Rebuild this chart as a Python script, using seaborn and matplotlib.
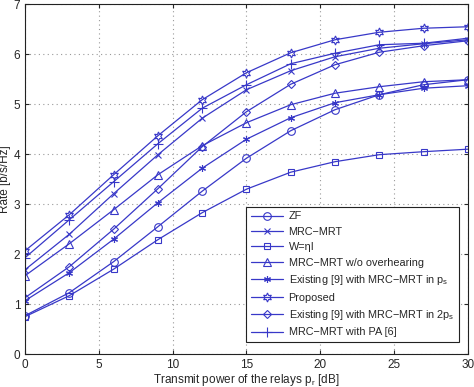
import numpy as np
import pandas as pd
import matplotlib
matplotlib.use("Agg")
import matplotlib.pyplot as plt
import seaborn as sns

# data
power_db = [0, 3, 6, 9, 12, 15, 18, 21, 24, 27, 30]
zf = [0.77, 1.23, 1.85, 2.55, 3.26, 3.92, 4.47, 4.89, 5.19, 5.39, 5.49]
mrc_mrt = [1.69, 2.40, 3.21, 3.99, 4.72, 5.29, 5.67, 5.95, 6.12, 6.21, 6.29]
w_eta = [0.75, 1.17, 1.70, 2.29, 2.83, 3.30, 3.64, 3.85, 3.99, 4.05, 4.10]
mrc_no_overhear = [1.57, 2.21, 2.89, 3.59, 4.17, 4.63, 4.99, 5.22, 5.35, 5.45, 5.49]
existing_ps = [1.07, 1.63, 2.30, 3.03, 3.72, 4.30, 4.73, 5.03, 5.19, 5.32, 5.37]
proposed = [2.07, 2.79, 3.59, 4.37, 5.09, 5.63, 6.03, 6.29, 6.44, 6.52, 6.55]
existing_2ps = [1.13, 1.75, 2.50, 3.31, 4.15, 4.85, 5.40, 5.79, 6.04, 6.17, 6.27]
mrc_pa = [1.93, 2.69, 3.45, 4.21, 4.92, 5.39, 5.81, 6.02, 6.19, 6.22, 6.32]

labels = ["ZF", "MRC\u2212MRT", "W=\u03b7I", "MRC\u2212MRT w/o overhearing",
          "Existing [9] with MRC\u2212MRT in p$_s$", "Proposed",
          "Existing [9] with MRC\u2212MRT in 2p$_s$", "MRC\u2212MRT with PA [6]"]
series = [zf, mrc_mrt, w_eta, mrc_no_overhear, existing_ps, proposed, existing_2ps, mrc_pa]
markers = ["o", "x", "s", "^", (6, 2, 0), (6, 1, 0), "D", "+"]
msizes = [5.5, 5, 5, 5.5, 5, 6.5, 4.3, 6.5]

sns.set_style("ticks")
plt.rcParams["font.family"] = ["Liberation Sans", "DejaVu Sans"]
plt.rcParams["mathtext.fontset"] = "custom"
plt.rcParams["mathtext.rm"] = "Liberation Sans"
plt.rcParams["mathtext.it"] = "Liberation Sans"

color = "#3838c8"
fig = plt.figure(figsize=(4.74, 3.87), dpi=100)
ax = fig.add_axes([0.053, 0.085, 0.934, 0.904])

for lab, vals, mk, ms in zip(labels, series, markers, msizes):
    df = pd.DataFrame({"p": power_db, "rate": vals})
    sns.lineplot(data=df, x="p", y="rate", ax=ax, color=color, lw=0.9,
                 marker=mk, markersize=ms,
                 markerfacecolor="none", markeredgecolor=color,
                 markeredgewidth=0.8, label=lab)

ax.set_xlim(0, 30)
ax.set_ylim(0, 7)
ax.set_xticks([0, 5, 10, 15, 20, 25, 30])
ax.set_yticks(range(8))
ax.grid(True, linestyle=(0, (1, 3)), color="#999999", lw=0.8)
ax.tick_params(direction="in", labelsize=8.5, top=True, right=True, length=3)
for s in ax.spines.values():
    s.set_linewidth(0.8)
    s.set_color("#222222")
ax.set_xlabel("Transmit power of the relays p$_r$ [dB]", fontsize=8.5, labelpad=1)
ax.set_ylabel("Rate [b/s/Hz]", fontsize=8.5, labelpad=2)

leg = ax.legend(loc="lower right", bbox_to_anchor=(0.980, 0.034), fontsize=7.8,
                handlelength=3.0, frameon=True, fancybox=False,
                edgecolor="#222222", framealpha=1, borderaxespad=0,
                labelspacing=0.5, handletextpad=0.5, borderpad=0.45)
leg.get_frame().set_linewidth(0.8)

fig.savefig("out.png", dpi=100)
